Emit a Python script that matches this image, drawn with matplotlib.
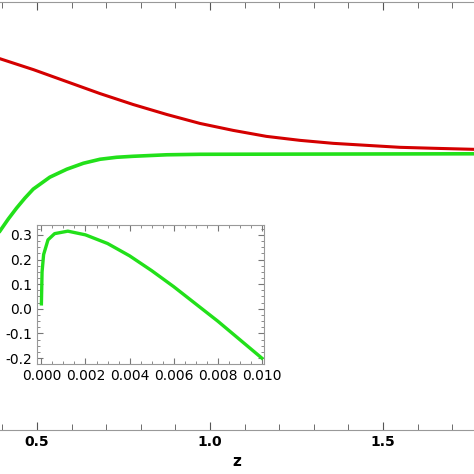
import numpy as np
import matplotlib
matplotlib.use('Agg')
import matplotlib.pyplot as plt
from matplotlib.ticker import MultipleLocator, FormatStrFormatter

# main panel, y in arbitrary units (left labels are cropped off in the reference)
red_z = [0.393, 0.49, 0.586, 0.682, 0.778, 0.875, 0.971, 1.067, 1.163, 1.26,
         1.356, 1.452, 1.549, 1.65, 1.761]
red_y = [373, 362, 350, 338, 327, 317, 308, 301, 295, 291, 288, 286, 284, 283, 282]
green_z = [0.393, 0.417, 0.441, 0.465, 0.489, 0.537, 0.586, 0.634, 0.682, 0.73,
           0.778, 0.875, 0.971, 1.761]
green_y = [200, 212, 223, 233, 242, 254, 262, 268, 272, 274, 275, 276.5, 277, 277.5]

# inset
ins_z = [0.0, 0.00003, 0.0001, 0.0003, 0.0006, 0.0012, 0.002, 0.003, 0.004,
         0.005, 0.006, 0.007, 0.008, 0.009, 0.010]
ins_y = [0.02, 0.15, 0.22, 0.28, 0.305, 0.315, 0.30, 0.265, 0.215,
         0.155, 0.09, 0.02, -0.05, -0.125, -0.20]

red = '#d40000'
green = '#22e01a'

fig = plt.figure(figsize=(4.74, 4.74), dpi=100)
ax = fig.add_axes([0, 1 - 430 / 474, 1, 428 / 474])
ax.plot(red_z, red_y, color=red, lw=2.2)
ax.plot(green_z, green_y, color=green, lw=2.6)
ax.set_xlim(0.393, 1.763)
ax.set_ylim(0, 430)
ax.xaxis.set_major_locator(MultipleLocator(0.5))
ax.xaxis.set_minor_locator(MultipleLocator(0.1))
ax.set_yticks([])
ax.tick_params(axis='x', which='both', direction='in', top=True, color='#555555')
ax.tick_params(axis='x', which='major', length=6)
ax.tick_params(axis='x', which='minor', length=4)
for lbl in ax.get_xticklabels():
    lbl.set_fontweight('bold')
for s in ax.spines.values():
    s.set_color('#999999')
ax.spines['left'].set_visible(False)
ax.spines['right'].set_visible(False)
ax.set_xlabel('z', fontweight='bold', fontsize=11)

axi = fig.add_axes([37 / 474, 1 - 364 / 474, 227 / 474, 139 / 474])
axi.plot(ins_z, ins_y, color=green, lw=2.4)
axi.set_xlim(-0.0002, 0.0101)
axi.set_ylim(-0.224, 0.34)
axi.xaxis.set_major_locator(MultipleLocator(0.002))
axi.xaxis.set_minor_locator(MultipleLocator(0.0005))
axi.yaxis.set_major_locator(MultipleLocator(0.1))
axi.yaxis.set_minor_locator(MultipleLocator(0.025))
axi.xaxis.set_major_formatter(FormatStrFormatter('%.3f'))
axi.yaxis.set_major_formatter(FormatStrFormatter('%.1f'))
axi.tick_params(which='both', direction='in', top=True, right=True, labelsize=10, color='#777777')
axi.tick_params(which='major', length=4)
axi.tick_params(which='minor', length=2)
for s in axi.spines.values():
    s.set_color('#999999')

fig.savefig('out.png', dpi=100)
